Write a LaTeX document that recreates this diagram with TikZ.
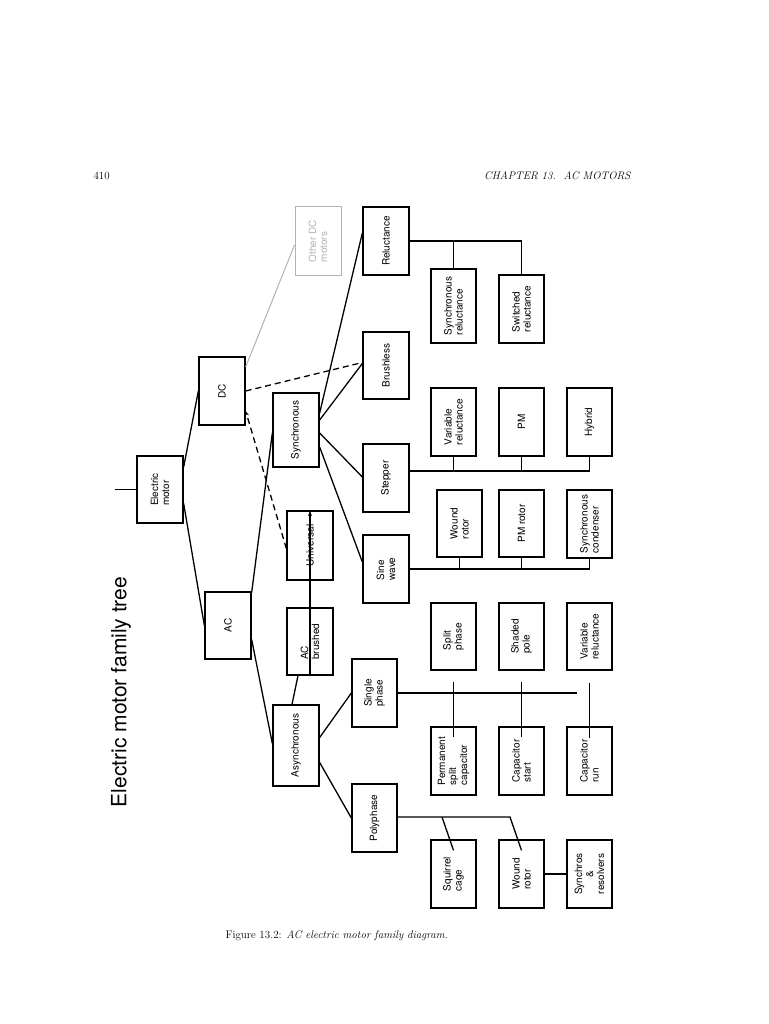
\documentclass[tikz,border=0pt]{standalone}
\usepackage{fontspec}
\newfontfamily\heros{TeX Gyre Heros}
\usetikzlibrary{arrows.meta}
\begin{document}
\begin{tikzpicture}[x=1pt,y=-1pt,
  bx/.style={draw,line width=1.3pt,rotate=90,align=left,font=\heros\fontsize{10}{11}\selectfont,inner sep=1pt,minimum height=46pt},
  ln/.style={line width=1.3pt},
  dsh/.style={line width=1.3pt,dash pattern=on 6pt off 4pt}]
\useasboundingbox (0,0) rectangle (768,1024);
\node[anchor=west,font=\fontsize{11}{13}\selectfont] (pg) at (90,176) {410};
\node[anchor=east,font=\itshape\fontsize{11}{13}\selectfont] (ch) at (634,176) {CHAPTER 13.\ \ AC MOTORS};
\node[anchor=west,font=\fontsize{11}{13}\selectfont] (cap) at (222,936) {Figure 13.2: \textit{AC electric motor family diagram.}};
\node[rotate=90,font=\heros\fontsize{21}{24}\selectfont] (title) at (121,692) {Electric motor family tree};

\node[bx,minimum width=67pt] (em) at (160,489.5) {Electric\\motor};
\node[bx,minimum width=68pt] (dc) at (222,391) {DC};
\node[bx,minimum width=67pt] (ac) at (228,625.5) {AC};
\node[bx,minimum width=68pt,draw=gray!60,text=gray!60,line width=1pt] (odc) at (318,241) {Other DC\\motors};
\node[bx,minimum width=74pt] (syn) at (296,430) {Synchronous};
\node[bx,minimum width=69pt] (uni) at (310,545.5) {Universal};
\node[bx,minimum width=67pt] (acb) at (310,641.5) {AC\\brushed};
\node[bx,minimum width=81pt] (asy) at (296,745.5) {Asynchronous};
\node[bx,minimum width=68pt] (rel) at (386,241) {Reluctance};
\node[bx,minimum width=67pt] (bru) at (386,365.5) {Brushless};
\node[bx,minimum width=68pt] (ste) at (386,478) {Stepper};
\node[bx,minimum width=68pt] (sin) at (386,569) {Sine\\wave};
\node[bx,minimum width=68pt,minimum height=45pt] (sph) at (374.5,693) {Single\\phase};
\node[bx,minimum width=68pt,minimum height=45pt] (pol) at (374.5,818) {Polyphase};
\node[bx,minimum width=74pt,minimum height=45pt] (srel) at (453.5,306) {Synchronous\\reluctance};
\node[bx,minimum width=68pt,minimum height=45pt] (swr) at (521.5,309) {Switched\\reluctance};
\node[bx,minimum width=68pt,minimum height=45pt] (vr1) at (453.5,422) {Variable\\reluctance};
\node[bx,minimum width=68pt,minimum height=45pt] (pm) at (521.5,422) {PM};
\node[bx,minimum width=68pt,minimum height=45pt] (hyb) at (589.5,422) {Hybrid};
\node[bx,minimum width=67pt,minimum height=45pt] (wr1) at (459.5,523.5) {Wound\\rotor};
\node[bx,minimum width=67pt,minimum height=45pt] (pmr) at (521.5,523.5) {PM rotor};
\node[bx,minimum width=68pt,minimum height=45pt] (scon) at (589.5,524) {Synchronous\\condenser};
\node[bx,minimum width=67pt,minimum height=45pt] (spl) at (453.5,636.5) {Split\\phase};
\node[bx,minimum width=67pt,minimum height=45pt] (shp) at (521.5,636.5) {Shaded\\pole};
\node[bx,minimum width=67pt,minimum height=45pt] (vr2) at (589.5,636.5) {Variable\\reluctance};
\node[bx,minimum width=68pt,minimum height=45pt] (psc) at (453.5,761) {Permanent\\split\\capacitor};
\node[bx,minimum width=68pt,minimum height=45pt] (cst) at (521.5,761) {Capacitor\\start};
\node[bx,minimum width=68pt,minimum height=45pt] (crun) at (589.5,761) {Capacitor\\run};
\node[bx,minimum width=68pt,minimum height=45pt] (sqc) at (453.5,874) {Squirrel\\cage};
\node[bx,minimum width=68pt,minimum height=45pt] (wr2) at (521.5,874) {Wound\\rotor};
\node[bx,minimum width=68pt,minimum height=45pt,align=center] (sync) at (589.5,874) {Synchros\\\&\\resolvers};

\coordinate (stub) at (115,489.5);
\draw[ln] (stub) -- (em.north);
\draw[ln] ([yshift=22.5pt]em.south) -- (dc.north);
\draw[ln] ([yshift=-14pt]em.south) -- (ac.north);
\draw[line width=1pt,gray!60] ([yshift=24pt]dc.south) -- ([yshift=-4pt]odc.north);
\draw[dsh] (dc.south) -- ([yshift=3pt]bru.north);
\draw[dsh,-{Stealth[length=5pt,width=4pt]}] ([yshift=-3pt]uni.north) -- ([yshift=-20pt]dc.south);
\draw[ln] ([yshift=33pt]ac.south) -- ([yshift=-3pt]syn.north);
\draw[ln] ([yshift=-14pt]ac.south) -- ([yshift=2pt]asy.north);
\draw[ln,-{Stealth[length=6pt,width=4pt]}] (acb.west) -- (uni.east);
\draw[ln] ([xshift=-4pt]asy.east) -- ([xshift=-12pt]acb.west);
\draw[ln] ([yshift=17pt]syn.south) -- ([yshift=8pt]rel.north);
\draw[ln] ([yshift=10pt]syn.south) -- ([yshift=2pt]bru.north);
\draw[ln] ([yshift=-3pt]syn.south) -- ([yshift=1pt]ste.north);
\draw[ln] ([yshift=-17pt]syn.south) -- ([yshift=7pt]sin.north);
\draw[ln] ([yshift=8pt]asy.south) -- (sph.north);
\draw[ln] ([yshift=-17pt]asy.south) -- (pol.north);
% reluctance group
\draw[ln] (rel.south) -- (521.5,241) -- (swr.east);
\draw[ln] (453.5,241) -- (srel.east);
% stepper group
\draw[ln] ([yshift=7pt]ste.south) -- (589.5,471) -- (hyb.west);
\draw[ln] (453.5,471) -- (vr1.west);
\draw[ln] (521.5,471) -- (pm.west);
% sine wave group
\draw[ln] (sin.south) -- (589.5,569) -- (scon.west);
\draw[ln] (459.5,569) -- (wr1.west);
\draw[ln] (521.5,569) -- (pmr.west);
% single phase group
\draw[ln] (sph.south) -- (577,693);
\draw[ln] ([yshift=-11pt]spl.west) -- ([yshift=-11pt]psc.east);
\draw[ln] ([yshift=-11pt]shp.west) -- ([yshift=-11pt]cst.east);
\draw[ln] ([yshift=-12pt]vr2.west) -- ([yshift=-12pt]crun.east);
% polyphase group
\draw[ln] ([yshift=1pt]pol.south) -- (510,817) -- ([yshift=-11pt]wr2.east);
\draw[ln] (442,817) -- ([yshift=-11pt]sqc.east);
\draw[ln] (wr2.south) -- (sync.north);
\end{tikzpicture}
\end{document}
